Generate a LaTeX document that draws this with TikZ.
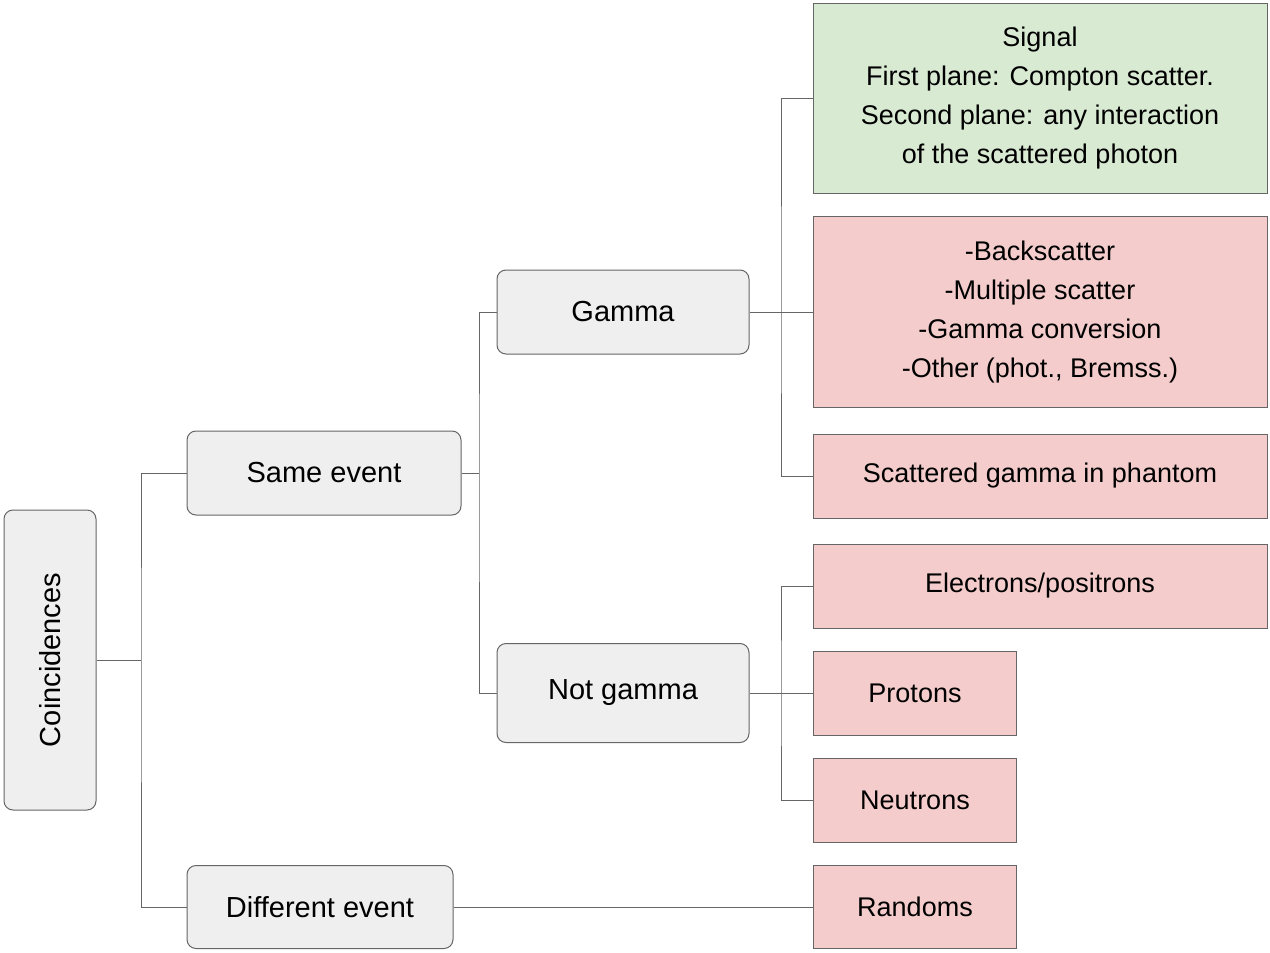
\documentclass[tikz,border=0pt]{standalone}
\usepackage{fontspec}
\setmainfont{Liberation Sans}
\definecolor{gbox}{HTML}{EFEFEF}
\definecolor{gline}{HTML}{666666}
\definecolor{grn}{HTML}{D9EAD3}
\definecolor{pnk}{HTML}{F4CCCC}
\begin{document}
\begin{tikzpicture}[x=1pt,y=-1pt,
  gr/.style={draw=gline,fill=gbox,rounded corners=9pt,line width=1pt,font=\fontsize{29}{34}\selectfont,inner sep=0pt},
  lf/.style={draw=gline,line width=1pt,font=\fontsize{27}{39}\selectfont,align=center,inner sep=0pt},
  ln/.style={draw=gline,line width=0.9pt}]
\useasboundingbox (0,0) rectangle (1270,953);
\node[gr,minimum width=300,minimum height=92,rotate=90] (co) at (50,660) {Coincidences};
\node[gr,minimum width=274,minimum height=84] (se) at (324,473) {Same event};
\node[gr,minimum width=266,minimum height=83] (de) at (320,907) {Different event};
\node[gr,minimum width=252,minimum height=84] (ga) at (623,312) {Gamma};
\node[gr,minimum width=252,minimum height=99] (ng) at (623,693) {Not gamma};
\node[lf,fill=grn,minimum width=454,minimum height=190] (si) at (1040,98) {Signal\\First plane: Compton scatter.\\Second plane: any interaction\\of the scattered photon};
\node[lf,fill=pnk,minimum width=454,minimum height=191] (bs) at (1040,312) {-Backscatter\\-Multiple scatter\\-Gamma conversion\\-Other (phot., Bremss.)};
\node[lf,fill=pnk,minimum width=454,minimum height=84] (sc) at (1040,476) {Scattered gamma in phantom};
\node[lf,fill=pnk,minimum width=454,minimum height=84] (el) at (1040,586) {Electrons/positrons};
\node[lf,fill=pnk,minimum width=203,minimum height=84] (pr) at (915,693) {Protons};
\node[lf,fill=pnk,minimum width=203,minimum height=84] (ne) at (915,800) {Neutrons};
\node[lf,fill=pnk,minimum width=203,minimum height=83] (ra) at (915,907) {Randoms};
\coordinate (j1) at (141,660);
\coordinate (j2) at (479,473);
\coordinate (j3) at (781,312);
\coordinate (j4) at (781,693);
\draw[ln] (co.south) -- (j1);
\draw[ln] (se.west) -| (j1) |- (de.west);
\draw[ln] (se.east) -- (j2);
\draw[ln] (ga.west) -| (j2) |- (ng.west);
\draw[ln] (ga.east) -- (bs.west);
\draw[ln] (si.west) -| (j3) |- (sc.west);
\draw[ln] (ng.east) -- (pr.west);
\draw[ln] (el.west) -| (j4) |- (ne.west);
\draw[ln] (de.east) -- (ra.west);
\end{tikzpicture}
\end{document}
